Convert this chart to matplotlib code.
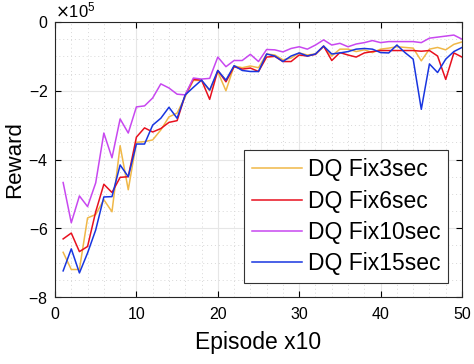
import matplotlib
matplotlib.use("Agg")
import matplotlib.pyplot as plt
import numpy as np
from matplotlib.ticker import MultipleLocator, ScalarFormatter

plt.rcParams["font.family"] = ["Liberation Sans", "DejaVu Sans"]
plt.rcParams["axes.unicode_minus"] = False

episodes = np.arange(1, 51)

# rewards in units of 1e5
fix3 = [-6.7, -7.2, -7.2, -5.7, -5.6, -5.17, -5.52, -3.6, -4.88, -3.5,
        -3.48, -3.43, -3.14, -2.76, -2.65, -2.17, -1.7, -1.7, -2.0, -1.45,
        -2.0, -1.28, -1.33, -1.28, -1.33, -0.93, -0.96, -1.1, -1.05, -0.9,
        -0.96, -0.93, -0.72, -0.99, -0.79, -0.79, -0.86, -0.81, -0.89, -0.79,
        -0.76, -0.72, -0.74, -0.76, -1.13, -0.79, -0.74, -0.81, -0.65, -0.58]
fix6 = [-6.31, -6.14, -6.68, -6.53, -5.52, -4.72, -4.96, -4.52, -4.5, -3.35,
        -3.08, -3.2, -3.1, -2.92, -2.87, -2.12, -1.67, -1.69, -2.25, -1.41,
        -1.74, -1.3, -1.37, -1.34, -1.44, -1.02, -1.0, -1.15, -1.15, -0.96,
        -0.99, -0.94, -0.7, -1.12, -0.89, -0.96, -1.02, -0.9, -0.86, -0.83,
        -0.83, -0.83, -0.83, -0.83, -0.85, -0.83, -0.99, -1.67, -0.9, -1.02]
fix10 = [-4.67, -5.84, -5.06, -5.37, -4.68, -3.23, -3.95, -2.82, -3.23, -2.47,
         -2.44, -2.21, -1.8, -1.92, -2.1, -2.12, -1.63, -1.66, -1.64, -1.02,
         -1.3, -1.12, -1.12, -0.94, -1.15, -0.8, -0.81, -0.87, -0.77, -0.72,
         -0.79, -0.67, -0.52, -0.67, -0.62, -0.72, -0.64, -0.6, -0.54, -0.6,
         -0.57, -0.57, -0.57, -0.57, -0.6, -0.47, -0.44, -0.41, -0.38, -0.5]
fix15 = [-7.24, -6.6, -7.3, -6.72, -6.05, -5.09, -5.08, -4.16, -4.5, -3.55,
         -3.55, -3.0, -2.8, -2.48, -2.8, -2.12, -1.9, -1.69, -1.98, -1.41,
         -1.69, -1.27, -1.41, -1.44, -1.44, -0.93, -0.99, -1.15, -0.99, -0.9,
         -0.99, -0.93, -0.7, -0.93, -0.9, -0.86, -0.79, -0.77, -0.79, -0.89,
         -0.9, -0.67, -0.89, -1.08, -2.54, -1.22, -1.47, -1.08, -0.86, -0.74]

series = [
    ("DQ Fix3sec", fix3, "#F0B848"),
    ("DQ Fix6sec", fix6, "#E8101E"),
    ("DQ Fix10sec", fix10, "#C848F0"),
    ("DQ Fix15sec", fix15, "#1835E0"),
]

fig = plt.figure(figsize=(4.74, 3.64), dpi=100)
ax = fig.add_axes([55 / 474, 1 - 297 / 364, 407 / 474, 275 / 364])

for label, values, color in series:
    ax.plot(episodes, np.array(values) * 1e5, color=color, linewidth=1.1, label=label)

ax.set_xlim(0, 50)
ax.set_ylim(-8e5, 0)
ax.xaxis.set_major_locator(MultipleLocator(10))
ax.xaxis.set_minor_locator(MultipleLocator(2))
ax.yaxis.set_major_locator(MultipleLocator(2e5))
ax.yaxis.set_minor_locator(MultipleLocator(0.5e5))

fmt = ScalarFormatter(useMathText=True)
fmt.set_powerlimits((5, 5))
ax.yaxis.set_major_formatter(fmt)
ax.yaxis.get_offset_text().set_fontsize(12)

ax.grid(which="major", color="#e6e6e6", linewidth=0.8, linestyle="-")
ax.grid(which="minor", color="#d8d8d8", linewidth=0.7, linestyle=(0, (1, 3)))
ax.set_axisbelow(True)
ax.tick_params(which="both", direction="in", top=True, right=True, labelsize=11.5)
ax.tick_params(axis="x", pad=7)
ax.tick_params(axis="y", pad=5)
ax.tick_params(which="minor", length=0)
ax.tick_params(which="major", length=4)
for s in ax.spines.values():
    s.set_color("#262626")
    s.set_linewidth(0.8)

ax.set_xlabel("Episode x10", fontsize=16.5, labelpad=7)
ax.set_ylabel("Reward", fontsize=16, labelpad=2)

leg = ax.legend(loc="lower right", fontsize=16.5, frameon=True, fancybox=False,
                edgecolor="#333333", framealpha=1, handlelength=2.2,
                borderaxespad=0.6, borderpad=0.35, labelspacing=0.36,
                handletextpad=0.25)
leg.get_frame().set_linewidth(0.8)

fig.savefig("out.png", dpi=100)
